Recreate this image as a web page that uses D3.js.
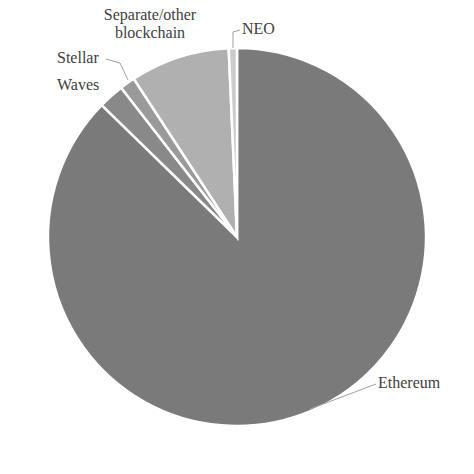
<!DOCTYPE html><html><head><script src="https://d3js.org/d3.v7.min.js"></script>
<style>body{margin:0;background:#fff}</style></head><body><svg width="474" height="474"></svg>
<script>
const categories=["Ethereum","Waves","Stellar","Separate/other blockchain","NEO"];
const values=[87.3,2.2,1.3,8.5,0.7];
const colors=["#7a7a7a","#898989","#9a9a9a","#b0b0b0","#cbcbcb"];
const svg=d3.select("svg");
const cx=237,cy=237,r=189;
const g=svg.append("g").attr("transform",`translate(${cx},${cy})`);
const pie=d3.pie().sort(null)(values);
const arc=d3.arc().innerRadius(0).outerRadius(r);
g.selectAll("path").data(pie).join("path").attr("d",arc)
 .attr("fill",(d,i)=>colors[i]).attr("stroke","#fff").attr("stroke-width",2.5);
const lbl=[
 {i:0,lines:["Ethereum"],x:378,y:388,anchor:"start",pts:[[310,409],[376,384]]},
 {i:1,lines:["Waves"],x:57,y:90,anchor:"start",pts:null},
 {i:2,lines:["Stellar"],x:57,y:63,anchor:"start",pts:[[128,80],[120,63],[106,59]]},
 {i:3,lines:["Separate/other","blockchain"],x:150,y:20,anchor:"middle",pts:null},
 {i:4,lines:["NEO"],x:242,y:34,anchor:"start",pts:[[233,48],[233,32],[240,30]]}
];
lbl.forEach(l=>{
 if(l.pts) svg.append("path").attr("d",d3.line()(l.pts)).attr("fill","none").attr("stroke","#a0a0a0").attr("stroke-width",1);
 const t=svg.append("text").attr("x",l.x).attr("y",l.y).attr("text-anchor",l.anchor)
  .attr("font-family","Liberation Serif, Times New Roman, serif").attr("font-size",16).attr("fill","#404040");
 l.lines.forEach((s,k)=>t.append("tspan").attr("x",l.x).attr("dy",k?18:0).text(s));
});
</script></body></html>
